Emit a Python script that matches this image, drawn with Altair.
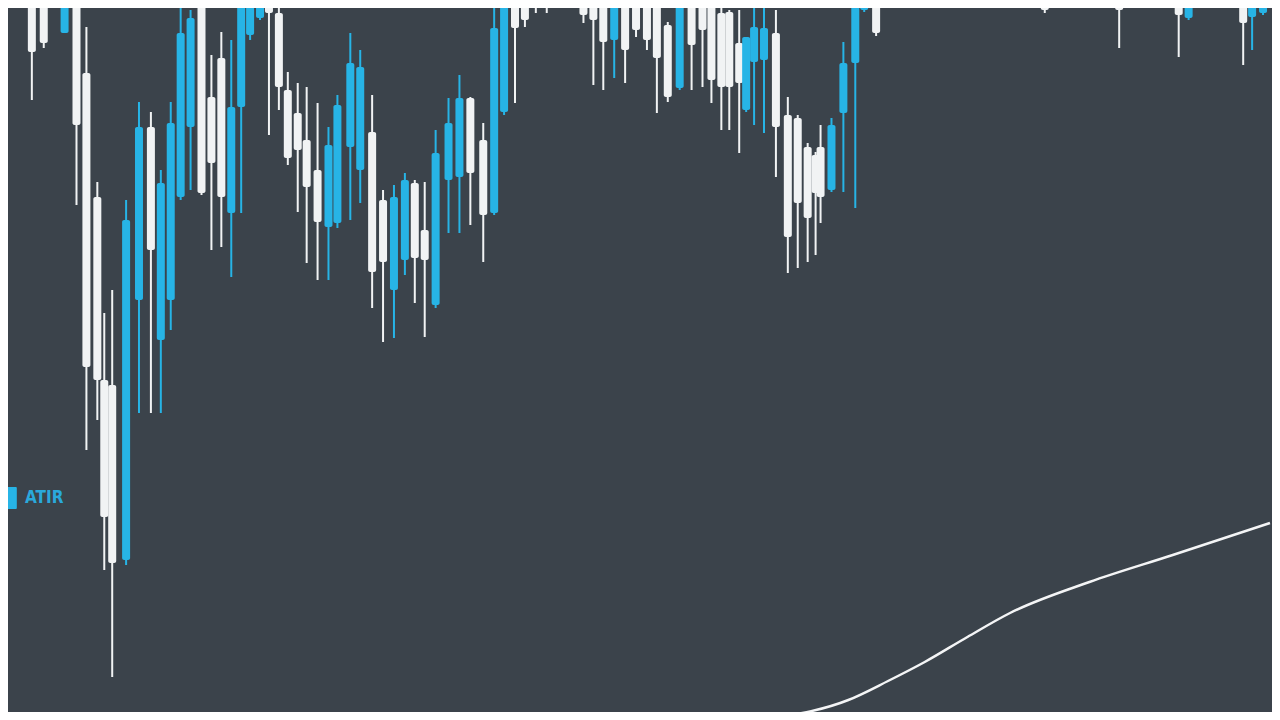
import altair as alt
import pandas as pd

# candle positions (time units) and prices
t = [27, 39, 60, 72, 82, 93, 100, 108, 122, 135, 147, 157, 167, 177, 187, 198, 208, 218, 228, 238,
     247, 257, 266, 276, 285, 295, 304, 315, 326, 335, 348, 358, 370, 381, 392, 403, 413, 423, 434, 447,
     458, 469, 482, 493, 503, 514, 524, 535, 546, 583, 593, 603, 614, 625, 636, 647, 657, 668, 680, 692,
     703, 712, 722, 730, 740, 747, 755, 765, 777, 789, 799, 809, 817, 822, 833, 845, 857, 866, 878, 1048,
     1123, 1183, 1193, 1248, 1257, 1268]
high = [750, 750, 750, 750, 693, 538, 407, 430, 520, 618, 608, 550, 618, 712, 710, 750, 665, 688, 680, 750,
        750, 750, 750, 750, 648, 637, 633, 617, 593, 625, 687, 670, 625, 530, 535, 547, 540, 538, 590, 622,
        645, 623, 597, 715, 750, 750, 750, 750, 750, 750, 750, 750, 750, 750, 750, 750, 750, 698, 750, 750,
        750, 750, 750, 710, 710, 683, 750, 713, 710, 623, 605, 577, 568, 595, 602, 678, 750, 750, 750, 750,
        750, 750, 750, 750, 750, 750]
body_hi = [750, 750, 750, 750, 647, 523, 340, 335, 500, 593, 593, 537, 597, 687, 702, 750, 623, 662, 613, 750,
           750, 750, 750, 707, 630, 607, 580, 550, 575, 615, 657, 653, 588, 520, 523, 540, 537, 490, 567, 597,
           622, 622, 580, 692, 750, 750, 750, 750, 750, 750, 750, 750, 750, 750, 750, 750, 750, 695, 750, 750,
           750, 750, 707, 708, 677, 683, 693, 692, 687, 605, 602, 573, 565, 573, 595, 657, 750, 750, 750, 750,
           750, 750, 750, 750, 750, 750]
body_lo = [668, 677, 687, 595, 353, 340, 203, 157, 160, 420, 470, 380, 420, 523, 593, 527, 557, 523, 507, 613,
           685, 702, 707, 633, 562, 570, 533, 498, 493, 497, 573, 550, 448, 458, 430, 460, 462, 460, 415, 540,
           543, 547, 505, 507, 608, 692, 700, 712, 712, 705, 700, 678, 680, 670, 690, 680, 662, 623, 632, 675,
           690, 640, 633, 633, 637, 610, 658, 660, 593, 483, 517, 502, 527, 523, 530, 607, 657, 710, 687, 710,
           710, 705, 702, 697, 703, 707]
low = [620, 672, 687, 515, 270, 300, 150, 43, 155, 307, 307, 307, 390, 520, 530, 525, 470, 473, 443, 507,
       680, 700, 585, 610, 555, 508, 457, 440, 440, 492, 500, 517, 412, 378, 382, 445, 417, 383, 412, 487,
       487, 495, 458, 505, 605, 617, 693, 707, 707, 697, 635, 630, 642, 637, 683, 670, 607, 618, 630, 630,
       633, 617, 590, 590, 567, 608, 595, 587, 543, 447, 452, 458, 465, 497, 528, 528, 512, 708, 684, 707,
       672, 663, 700, 655, 670, 705]
kind = ["down", "down", "ATIR", "down", "down", "down", "down", "down", "ATIR", "ATIR", "down", "ATIR", "ATIR",
        "ATIR", "ATIR", "down", "down", "down", "ATIR", "ATIR", "ATIR", "ATIR", "down", "down", "down", "down",
        "down", "down", "ATIR", "ATIR", "ATIR", "ATIR", "down", "down", "ATIR", "ATIR", "down", "down", "ATIR",
        "ATIR", "ATIR", "down", "down", "ATIR", "ATIR", "down", "down", "down", "down", "down", "down", "down",
        "ATIR", "down", "down", "down", "down", "down", "ATIR", "down", "down", "down", "down", "down", "down",
        "ATIR", "ATIR", "ATIR", "down", "down", "down", "down", "down", "down", "ATIR", "ATIR", "ATIR", "ATIR",
        "down", "down", "down", "down", "ATIR", "down", "ATIR", "ATIR"]

# trend line
line_t = [775, 850, 890, 927, 970, 1013, 1093, 1177, 1275]
line_v = [2, 20, 39, 58, 83, 107, 138, 165, 197]

candles = pd.DataFrame({"t": t, "high": high, "body_hi": body_hi, "body_lo": body_lo,
                        "low": low, "kind": kind})
trend = pd.DataFrame({"t": line_t, "v": line_v})

BG = "#3b434b"
CYAN = "#27b4e6"
WHITE = "#f1f3f4"

xs = alt.Scale(domain=[8, 1272], nice=False, zero=False)
ys = alt.Scale(domain=[8, 712], nice=False, zero=False)

color = alt.Color(
    "kind:N",
    scale=alt.Scale(domain=["ATIR", "down"], range=[CYAN, WHITE]),
    legend=alt.Legend(
        values=["ATIR"], title=None, orient="none", legendX=-8, legendY=479,
        symbolType="M-0.5,-1H0.5V1H-0.5Z", symbolSize=441,
        symbolStrokeColor="#8fdcf2", symbolStrokeWidth=1,
        labelColor="#2aa9dc", labelFontSize=17, labelFontWeight="bold",
        labelFont="Liberation Sans Narrow, DejaVu Sans Condensed, sans-serif",
        labelOffset=3, padding=0,
    ),
)

base = alt.Chart(candles)
wicks = base.mark_rule(strokeWidth=2, clip=True).encode(
    x=alt.X("t:Q", scale=xs, axis=None),
    y=alt.Y("low:Q", scale=ys, axis=None),
    y2="high:Q",
    color=color,
)
bodies = base.mark_bar(width=8, cornerRadius=2, clip=True).encode(
    x=alt.X("t:Q", scale=xs, axis=None),
    y=alt.Y("body_lo:Q", scale=ys, axis=None),
    y2="body_hi:Q",
    color=color,
)
line = alt.Chart(trend).mark_line(color="#f4f5f6", strokeWidth=2.5, interpolate="monotone",
                                  clip=True).encode(
    x=alt.X("t:Q", scale=xs, axis=None),
    y=alt.Y("v:Q", scale=ys, axis=None),
)

chart = alt.layer(wicks, bodies, line).properties(
    width=1264, height=704, background=BG, padding=0,
    autosize=alt.AutoSizeParams(type="none"),
).configure_view(stroke=None)

chart.save("out.html", embed_options={"renderer": "svg", "actions": False})
